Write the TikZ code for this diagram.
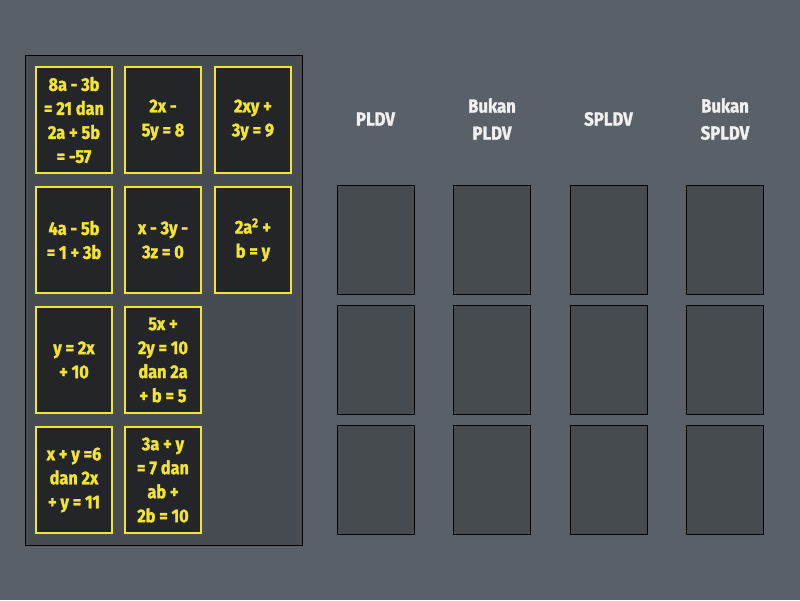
\documentclass[tikz,border=0pt]{standalone}
\usepackage{fontspec}
\setmainfont{Fira Sans}
\newfontfamily\cardfont[FakeStretch=0.88,FakeBold=1.5]{Fira Sans}
\usetikzlibrary{positioning}
\definecolor{bgcol}{HTML}{5A6068}
\definecolor{panelcol}{HTML}{474C52}
\definecolor{cardcol}{HTML}{232528}
\definecolor{cardedge}{HTML}{F2E531}
\definecolor{slotcol}{HTML}{464B50}
\tikzset{
  card/.style={draw=cardedge, line width=2pt, fill=cardcol, minimum width=76pt, minimum height=106pt,
    text=cardedge, align=center, font=\cardfont\bfseries\fontsize{18.5}{24}\selectfont, inner sep=0pt},
  slot/.style={draw=black, line width=0.8pt, fill=slotcol, minimum width=77pt, minimum height=109pt},
  head/.style={text=white!94!black, align=center, font=\cardfont\bfseries\fontsize{19}{27}\selectfont}
}
\begin{document}
\begin{tikzpicture}[x=1pt,y=-1pt]
  \fill[bgcol] (0,0) rectangle (800,600);
  \useasboundingbox (0,0) rectangle (800,600);
  % card panel
  \draw[black, line width=1pt, fill=panelcol] (25,55) rectangle (302,545);
  \node[card] (c11) at (74,120) {8a - 3b\\= 21 dan\\2a + 5b\\= -57};
  \node[card] (c12) at (163,120) {2x -\\5y = 8};
  \node[card] (c13) at (253,120) {2xy +\\3y = 9};
  \node[card] (c21) at (74,240) {4a - 5b\\= 1 + 3b};
  \node[card] (c22) at (163,240) {x - 3y -\\3z = 0};
  \node[card] (c23) at (253,240) {2a\textsuperscript{2} +\\b = y};
  \node[card] (c31) at (74,360) {y = 2x\\+ 10};
  \node[card] (c32) at (163,360) {5x +\\2y = 10\\dan 2a\\+ b = 5};
  \node[card] (c41) at (74,480) {x + y =6\\dan 2x\\+ y = 11};
  \node[card] (c42) at (163,480) {3a + y\\= 7 dan\\ab +\\2b = 10};
  % answer columns
  \node[head] (h1) at (375.5,119) {PLDV};
  \node[head] (h2) at (492,119) {Bukan\\PLDV};
  \node[head] (h3) at (608.5,119) {SPLDV};
  \node[head] (h4) at (725,119) {Bukan\\SPLDV};
  \foreach \x [count=\i] in {375.5,492,608.5,725}
    \foreach \y [count=\j] in {239.5,359.5,479.5}
      \node[slot] (s\i\j) at (\x,\y) {};
\end{tikzpicture}
\end{document}
